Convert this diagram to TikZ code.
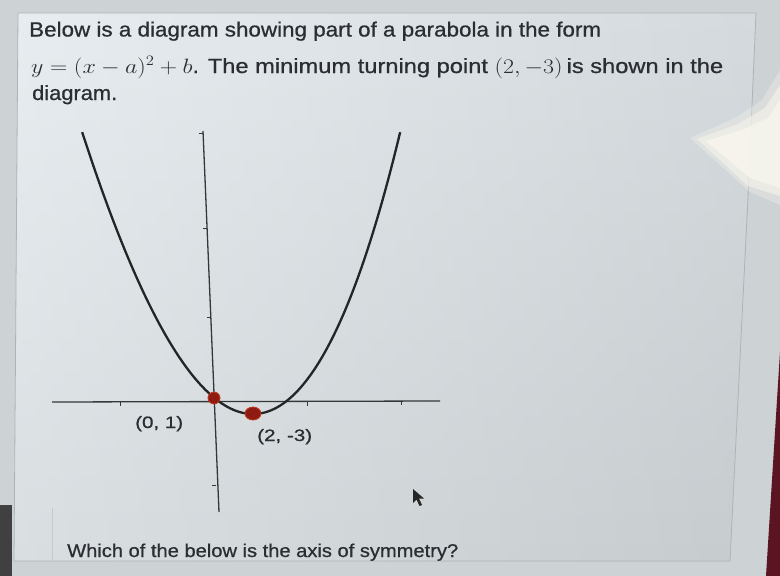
\documentclass[tikz,border=0pt]{standalone}
\usepackage[no-math]{fontspec}
\setmainfont{Liberation Sans}[FakeBold=0.7]
\usepackage{graphicx}
\usetikzlibrary{shapes.geometric}
\newsavebox\linebox
\newcommand\fitline[2]{\sbox\linebox{#2}\pgfmathsetmacro\fitsc{#1/\wd\linebox}\scalebox{\fitsc}[1]{\usebox\linebox}}
\definecolor{textc}{HTML}{2A2D31}
\definecolor{axisc}{HTML}{35383B}
\definecolor{curvec}{HTML}{232527}
\definecolor{dotc}{HTML}{8E1A12}
\definecolor{dotedge}{HTML}{C0391B}
\definecolor{outerc}{HTML}{CDD2D4}
\definecolor{panelTop}{HTML}{E3EAEE}
\definecolor{panelBot}{HTML}{D3D9DC}
\definecolor{bordc}{HTML}{AEB3B6}
\definecolor{barc}{HTML}{5A1422}
\definecolor{glarec}{HTML}{F6F4EC}
\begin{document}
\begin{tikzpicture}[x=1pt,y=-1pt,
  txt/.style={inner sep=0pt, anchor=base west, text=textc},
  lbl/.style={inner sep=0pt, anchor=base west, text=textc, font=\fontsize{16.5}{18}\selectfont},
  axisline/.style={draw=axisc, line width=1.3pt},
  tick/.style={draw=axisc, line width=1pt},
  curve/.style={draw=curvec, line width=2.3pt},
  ptdot/.style={fill=dotc, draw=dotedge, line width=0.8pt}]
\useasboundingbox (0,0) rectangle (780,576);
% photo background
\fill[outerc] (0,0) rectangle (780,576);
\fill[barc] (780,352) -- (780,576) -- (766,576) -- cycle;
\fill[black!75] (0,505) rectangle (12,576);
% panel
\shade[top color=panelTop, bottom color=panelBot] (18,13) -- (756,13) -- (730,561) -- (14,561) -- cycle;
\shade[left color=white, right color=gray, opacity=0.15] (18,13) -- (756,13) -- (730,561) -- (14,561) -- cycle;
\draw[bordc, line width=0.8pt] (18,13) -- (756,13) -- (748,197) -- (730,561) -- (14,561) -- cycle;
\draw[bordc!70, line width=0.6pt] (52,508) -- (52,561);
% glare
\fill[glarec, opacity=0.35] (690,138) -- (735,118) -- (762,100) -- (780,70) -- (780,205) -- (750,192) -- cycle;
\fill[glarec, opacity=0.6] (697,139) -- (738,124) -- (765,108) -- (780,85) -- (780,196) -- (748,186) -- cycle;
\fill[glarec, opacity=0.9] (706,141) -- (742,130) -- (768,118) -- (780,100) -- (780,188) -- (750,178) -- cycle;
% texts
\node[txt, font=\fontsize{20.5}{22}\selectfont] (l1) at (29,36.5) {\fitline{572}{Below is a diagram showing part of a parabola in the form}};
\node[txt, font=\fontsize{20.5}{22}\selectfont] (l2) at (31,73) {\fitline{692}{$y=(x-a)^2+b$. The minimum turning point $(2,-3)$\,is shown in the}};
\node[txt, font=\fontsize{20.5}{22}\selectfont] (l3) at (32,100) {\fitline{85}{diagram.}};
\node[txt, font=\fontsize{18.5}{20}\selectfont] (q) at (67,557) {\fitline{391}{Which of the below is the axis of symmetry?}};
% axes
\coordinate (yt) at (203,131);
\coordinate (yb) at (219,512);
\coordinate (xl) at (52,402);
\coordinate (xr) at (440,401);
\draw[axisline] (yt) -- (yb);
\draw[axisline] (xl) -- (xr);
% ticks
\foreach \tx/\ty in {120/402, 307/401.5, 401/401}
  \draw[tick] (\tx,\ty) -- (\tx,\ty+4);
\foreach \tx/\ty in {203.1/133, 207/228, 210.6/317, 216.2/485}
  \draw[tick] (\tx,\ty) -- (\tx-4,\ty);
% parabola
\draw[curve] plot[domain=-15.9:15.9, samples=120, smooth]
  ({253+10*\x-0.0468*\x*\x}, {414-1.115*\x*\x});
% points
\node[ptdot, circle, minimum size=12pt, inner sep=0pt] (p01) at (214,398) {};
\node[ptdot, ellipse, minimum width=16pt, minimum height=13pt, inner sep=0pt] (v) at (253,413.5) {};
% labels
\node[lbl] (l01) at (135,428) {\fitline{48}{(0, 1)}};
\node[lbl] (lv) at (257,441) {\fitline{55}{(2, -3)}};
% cursor
\fill[black!85] (413,489) -- (413,503) -- (416.5,499.5) -- (419.5,506) -- (422,505) -- (419,498.5) -- (424,498.5) -- cycle;
\end{tikzpicture}
\end{document}
